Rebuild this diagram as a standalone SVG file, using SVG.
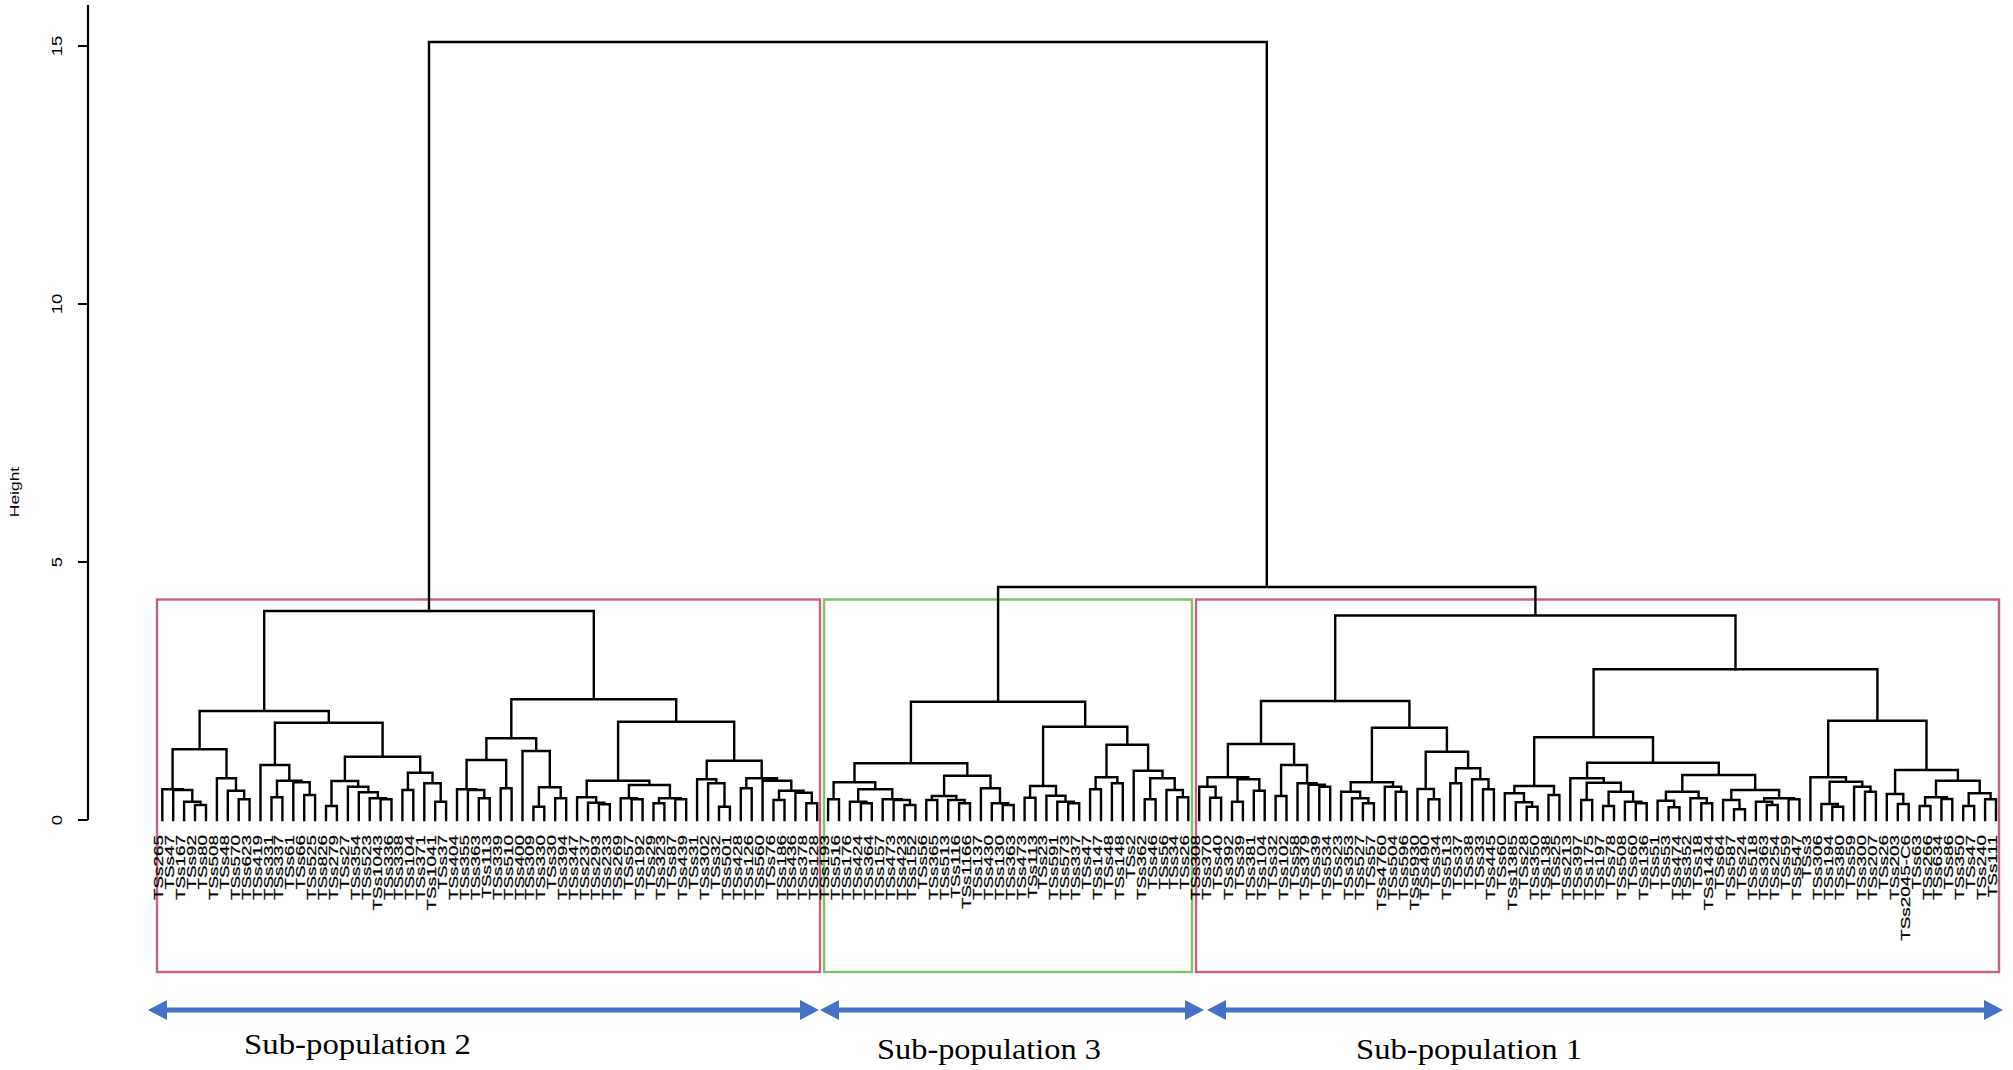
<svg xmlns="http://www.w3.org/2000/svg" width="2013" height="1070" viewBox="0 0 2013 1070">
<style>
.br{fill:none;stroke:#000;stroke-width:2.4;stroke-linecap:square}
.ax{fill:none;stroke:#000;stroke-width:2.2}
.lb{font-family:"Liberation Sans",Arial,sans-serif;font-size:13px;text-anchor:end;fill:#000;stroke:#000;stroke-width:0.25}
.tk{font-family:"Liberation Sans",Arial,sans-serif;font-size:14px;text-anchor:middle;fill:#000}
.pk{fill:none;stroke:#C8617A;stroke-width:2.4}
.gr{fill:none;stroke:#7CC46B;stroke-width:2.4}
.ar{fill:#4472C4}
.sp{font-family:"Liberation Serif","Times New Roman",serif;font-size:30px;fill:#000}
</style>
<rect width="2013" height="1070" fill="#fff"/>
<g id="axis">
<path class="ax" d="M88 5V820M78 820H88M78 562H88M78 304H88M78 46H88"/>
<text class="tk" transform="translate(62 820) rotate(-90) scale(1.33 1)">0</text>
<text class="tk" transform="translate(62 562) rotate(-90) scale(1.33 1)">5</text>
<text class="tk" transform="translate(62 304) rotate(-90) scale(1.33 1)">10</text>
<text class="tk" transform="translate(62 46) rotate(-90) scale(1.33 1)">15</text>
<text class="tk" style="font-size:12px" transform="translate(18.5 492) rotate(-90) scale(1.45 1)">Height</text>
</g>
<g id="boxes">
<rect id="box-sub2" class="pk" x="157" y="599.5" width="663" height="372.5"/>
<rect id="box-sub3" class="gr" x="824" y="599.5" width="368" height="372.5"/>
<rect id="box-sub1" class="pk" x="1196" y="599.5" width="803" height="372.5"/>
</g>
<g id="connectors">
<path class="br" d="M429 611V42H1266.8V587M998.1 701.7V587H1535.4V615.5M1335.2 701V615.5H1735.5V669.3"/>
<path id="sub2-branches" class="br" d="M195 820V805H206V820M184.1 820V801.7H200.5V805M173.2 820V790H192.3V801.7M162.3 820V789.3H182.8V790M238.7 820V799.3H249.6V820M227.8 820V790.7H244.2V799.3M216.9 820V778.3H236V790.7M172.6 789.3V749.3H226.5V778.3M271.5 820V797.3H282.4V820M304.2 820V795H315.1V820M293.3 820V782.3H309.7V795M277 797.3V780.7H301.5V782.3M260.5 820V765H289.3V780.7M326 820V806H336.9V820M380.6 820V799.3H391.5V820M369.7 820V798.3H386.1V799.3M358.8 820V792.3H377.9V798.3M347.9 820V786.7H368.4V792.3M331.5 806V781H358.2V786.7M402.4 820V790H413.3V820M435.2 820V801.7H446.1V820M424.3 820V783.3H440.7V801.7M407.9 790V772.7H432.5V783.3M344.9 781V756.7H420.2V772.7M274.9 765V722.7H382.6V756.7M199.6 749.3V711H328.8V722.7M478.8 820V798.3H489.7V820M467.9 820V790H484.3V798.3M457 820V789.3H476.1V790M500.7 820V788.3H511.6V820M466.6 789.3V760H506.2V788.3M533.4 820V806.7H544.3V820M555.2 820V798.3H566.2V820M538.9 806.7V787.3H560.7V798.3M522.5 820V751H549.8V787.3M486.4 760V738.3H536.2V751M598.9 820V804.3H609.8V820M588 820V802.7H604.4V804.3M577.1 820V797.3H596.2V802.7M631.6 820V799.3H642.6V820M620.7 820V798.3H637.1V799.3M653.5 820V803.3H664.4V820M675.3 820V799.3H686.2V820M659 803.3V798.3H680.8V799.3M628.9 798.3V785H669.9V798.3M586.7 797.3V780.7H649.4V785M719 820V806.7H729.9V820M708.1 820V783.3H724.5V806.7M697.1 820V779.3H716.3V783.3M740.8 820V788.3H751.7V820M773.5 820V800H784.5V820M806.3 820V803.3H817.2V820M795.4 820V792.7H811.8V803.3M779 800V790.7H803.6V792.7M762.6 820V780.7H791.3V790.7M746.3 788.3V778.3H777V780.7M706.7 779.3V760.7H761.7V778.3M618.1 780.7V721.7H734.2V760.7M511.3 738.3V699.3H676.2V721.7M264.2 711V611H593.8V699.3"/>
<path id="sub3-branches" class="br" d="M828.1 820V799.3H839V820M860.9 820V803.3H871.8V820M849.9 820V801.7H866.4V803.3M904.5 820V805H915.4V820M893.6 820V800H910V805M882.7 820V799.3H901.8V800M858.2 801.7V789.3H892.3V799.3M833.6 799.3V782.3H875.3V789.3M926.3 820V800H937.3V820M959.1 820V803.3H970V820M948.2 820V800H964.6V803.3M931.8 800V796H956.4V800M1002.7 820V805H1013.7V820M991.8 820V803.3H1008.2V805M980.9 820V788.3H1000V803.3M944.1 796V775.7H990.5V788.3M854.5 782.3V763.3H967.3V775.7M1024.6 820V797.7H1035.5V820M1068.2 820V803.3H1079.2V820M1057.3 820V801.7H1073.7V803.3M1046.4 820V795.7H1065.5V801.7M1030.1 797.7V786H1056V795.7M1090.1 820V789.3H1101V820M1111.9 820V783.3H1122.8V820M1095.6 789.3V777.3H1117.4V783.3M1144.7 820V799.3H1155.6V820M1177.4 820V797.3H1188.3V820M1166.5 820V790H1182.9V797.3M1150.2 799.3V778.3H1174.7V790M1133.7 820V770.7H1162.5V778.3M1106.5 777.3V744.7H1148.1V770.7M1043.1 786V726.7H1127.3V744.7M910.9 763.3V701.7H1085.2V726.7"/>
<path id="sub1-branches" class="br" d="M1210.1 820V797.7H1221.1V820M1199.2 820V786.7H1215.6V797.7M1232 820V801.7H1242.9V820M1253.8 820V790.7H1264.7V820M1237.5 801.7V779.3H1259.3V790.7M1207.4 786.7V777.3H1248.4V779.3M1275.6 820V796H1286.5V820M1319.3 820V786.7H1330.2V820M1308.4 820V784.7H1324.8V786.7M1297.5 820V783.3H1316.6V784.7M1281.1 796V765H1307.1V783.3M1227.9 777.3V744H1294.1V765M1362.9 820V803.3H1373.9V820M1352 820V798.3H1368.4V803.3M1341.1 820V791.7H1360.2V798.3M1395.7 820V791.7H1406.6V820M1384.8 820V786.7H1401.2V791.7M1350.7 791.7V782.3H1393V786.7M1428.4 820V799.3H1439.4V820M1417.5 820V789H1433.9V799.3M1450.3 820V783.3H1461.2V820M1483 820V789.3H1493.9V820M1472.1 820V779.3H1488.5V789.3M1455.8 783.3V768.3H1480.3V779.3M1425.7 789V751.7H1468.1V768.3M1371.9 782.3V727.7H1446.9V751.7M1261 744V701H1409.4V727.7M1526.7 820V806.7H1537.6V820M1515.8 820V802.3H1532.2V806.7M1504.8 820V793.3H1524V802.3M1548.5 820V795H1559.4V820M1514.4 793.3V786H1554V795M1581.2 820V800H1592.2V820M1603.1 820V806H1614V820M1635.8 820V803.3H1646.7V820M1624.9 820V801.7H1641.3V803.3M1608.6 806V791.7H1633.1V801.7M1586.7 800V782.7H1620.9V791.7M1570.3 820V778.3H1603.8V782.7M1668.6 820V807.3H1679.5V820M1657.6 820V800.7H1674.1V807.3M1701.3 820V803.3H1712.2V820M1690.4 820V798.3H1706.8V803.3M1665.9 800.7V791.7H1698.6V798.3M1734 820V809.3H1745V820M1723.1 820V800H1739.5V809.3M1766.8 820V805H1777.7V820M1755.9 820V801.7H1772.3V805M1788.6 820V799.3H1799.5V820M1764.1 801.7V798.3H1794.1V799.3M1731.3 800V790H1779.1V798.3M1682.3 791.7V775H1755.2V790M1587.1 778.3V762.7H1718.8V775M1534.2 786V737.3H1653V762.7M1832.3 820V806.7H1843.2V820M1821.4 820V804H1837.8V806.7M1865 820V791.7H1875.9V820M1854.1 820V786.7H1870.5V791.7M1829.6 804V781.7H1862.3V786.7M1810.4 820V777.3H1846V781.7M1897.8 820V804H1908.7V820M1886.8 820V794H1903.3V804M1919.6 820V806H1930.5V820M1941.4 820V799H1952.3V820M1925.1 806V797.3H1946.9V799M1963.2 820V806H1974.2V820M1985.1 820V799.3H1996V820M1968.7 806V793.3H1990.6V799.3M1936 797.3V780.7H1979.7V793.3M1895.1 794V770H1957.9V780.7M1828.2 777.3V720.7H1926.5V770M1593.6 737.3V669.3H1877.4V720.7"/>
</g>
<g id="leaves">
<g id="leaf0"><text class="lb" transform="translate(163.3 835) rotate(-90) scale(1.45 1)">TSs265</text></g>
<g id="leaf1"><text class="lb" transform="translate(174.2 835) rotate(-90) scale(1.45 1)">TSs47</text></g>
<g id="leaf2"><text class="lb" transform="translate(185.1 835) rotate(-90) scale(1.45 1)">TSs167</text></g>
<g id="leaf3"><text class="lb" transform="translate(196 835) rotate(-90) scale(1.45 1)">TSs92</text></g>
<g id="leaf4"><text class="lb" transform="translate(207 835) rotate(-90) scale(1.45 1)">TSs80</text></g>
<g id="leaf5"><text class="lb" transform="translate(217.9 835) rotate(-90) scale(1.45 1)">TSs508</text></g>
<g id="leaf6"><text class="lb" transform="translate(228.8 835) rotate(-90) scale(1.45 1)">TSs48</text></g>
<g id="leaf7"><text class="lb" transform="translate(239.7 835) rotate(-90) scale(1.45 1)">TSs570</text></g>
<g id="leaf8"><text class="lb" transform="translate(250.6 835) rotate(-90) scale(1.45 1)">TSs623</text></g>
<g id="leaf9"><text class="lb" transform="translate(261.5 835) rotate(-90) scale(1.45 1)">TSs419</text></g>
<g id="leaf10"><text class="lb" transform="translate(272.5 835) rotate(-90) scale(1.45 1)">TSs331</text></g>
<g id="leaf11"><text class="lb" transform="translate(283.4 835) rotate(-90) scale(1.45 1)">TSs337</text></g>
<g id="leaf12"><text class="lb" transform="translate(294.3 835) rotate(-90) scale(1.45 1)">TSs61</text></g>
<g id="leaf13"><text class="lb" transform="translate(305.2 835) rotate(-90) scale(1.45 1)">TSs66</text></g>
<g id="leaf14"><text class="lb" transform="translate(316.1 835) rotate(-90) scale(1.45 1)">TSs525</text></g>
<g id="leaf15"><text class="lb" transform="translate(327 835) rotate(-90) scale(1.45 1)">TSs826</text></g>
<g id="leaf16"><text class="lb" transform="translate(337.9 835) rotate(-90) scale(1.45 1)">TSs279</text></g>
<g id="leaf17"><text class="lb" transform="translate(348.9 835) rotate(-90) scale(1.45 1)">TSs27</text></g>
<g id="leaf18"><text class="lb" transform="translate(359.8 835) rotate(-90) scale(1.45 1)">TSs354</text></g>
<g id="leaf19"><text class="lb" transform="translate(370.7 835) rotate(-90) scale(1.45 1)">TSs523</text></g>
<g id="leaf20"><text class="lb" transform="translate(381.6 835) rotate(-90) scale(1.45 1)">TSs1043</text></g>
<g id="leaf21"><text class="lb" transform="translate(392.5 835) rotate(-90) scale(1.45 1)">TSs336</text></g>
<g id="leaf22"><text class="lb" transform="translate(403.4 835) rotate(-90) scale(1.45 1)">TSs338</text></g>
<g id="leaf23"><text class="lb" transform="translate(414.3 835) rotate(-90) scale(1.45 1)">TSs104</text></g>
<g id="leaf24"><text class="lb" transform="translate(425.3 835) rotate(-90) scale(1.45 1)">TSs371</text></g>
<g id="leaf25"><text class="lb" transform="translate(436.2 835) rotate(-90) scale(1.45 1)">TSs1041</text></g>
<g id="leaf26"><text class="lb" transform="translate(447.1 835) rotate(-90) scale(1.45 1)">TSs37</text></g>
<g id="leaf27"><text class="lb" transform="translate(458 835) rotate(-90) scale(1.45 1)">TSs404</text></g>
<g id="leaf28"><text class="lb" transform="translate(468.9 835) rotate(-90) scale(1.45 1)">TSs355</text></g>
<g id="leaf29"><text class="lb" transform="translate(479.8 835) rotate(-90) scale(1.45 1)">TSs363</text></g>
<g id="leaf30"><text class="lb" transform="translate(490.7 835) rotate(-90) scale(1.45 1)">TSs113</text></g>
<g id="leaf31"><text class="lb" transform="translate(501.7 835) rotate(-90) scale(1.45 1)">TSs339</text></g>
<g id="leaf32"><text class="lb" transform="translate(512.6 835) rotate(-90) scale(1.45 1)">TSs510</text></g>
<g id="leaf33"><text class="lb" transform="translate(523.5 835) rotate(-90) scale(1.45 1)">TSs400</text></g>
<g id="leaf34"><text class="lb" transform="translate(534.4 835) rotate(-90) scale(1.45 1)">TSs309</text></g>
<g id="leaf35"><text class="lb" transform="translate(545.3 835) rotate(-90) scale(1.45 1)">TSs330</text></g>
<g id="leaf36"><text class="lb" transform="translate(556.2 835) rotate(-90) scale(1.45 1)">TSs30</text></g>
<g id="leaf37"><text class="lb" transform="translate(567.2 835) rotate(-90) scale(1.45 1)">TSs394</text></g>
<g id="leaf38"><text class="lb" transform="translate(578.1 835) rotate(-90) scale(1.45 1)">TSs347</text></g>
<g id="leaf39"><text class="lb" transform="translate(589 835) rotate(-90) scale(1.45 1)">TSs237</text></g>
<g id="leaf40"><text class="lb" transform="translate(599.9 835) rotate(-90) scale(1.45 1)">TSs293</text></g>
<g id="leaf41"><text class="lb" transform="translate(610.8 835) rotate(-90) scale(1.45 1)">TSs233</text></g>
<g id="leaf42"><text class="lb" transform="translate(621.7 835) rotate(-90) scale(1.45 1)">TSs269</text></g>
<g id="leaf43"><text class="lb" transform="translate(632.6 835) rotate(-90) scale(1.45 1)">TSs57</text></g>
<g id="leaf44"><text class="lb" transform="translate(643.6 835) rotate(-90) scale(1.45 1)">TSs192</text></g>
<g id="leaf45"><text class="lb" transform="translate(654.5 835) rotate(-90) scale(1.45 1)">TSs29</text></g>
<g id="leaf46"><text class="lb" transform="translate(665.4 835) rotate(-90) scale(1.45 1)">TSs323</text></g>
<g id="leaf47"><text class="lb" transform="translate(676.3 835) rotate(-90) scale(1.45 1)">TSs87</text></g>
<g id="leaf48"><text class="lb" transform="translate(687.2 835) rotate(-90) scale(1.45 1)">TSs439</text></g>
<g id="leaf49"><text class="lb" transform="translate(698.1 835) rotate(-90) scale(1.45 1)">TSs31</text></g>
<g id="leaf50"><text class="lb" transform="translate(709.1 835) rotate(-90) scale(1.45 1)">TSs302</text></g>
<g id="leaf51"><text class="lb" transform="translate(720 835) rotate(-90) scale(1.45 1)">TSs32</text></g>
<g id="leaf52"><text class="lb" transform="translate(730.9 835) rotate(-90) scale(1.45 1)">TSs501</text></g>
<g id="leaf53"><text class="lb" transform="translate(741.8 835) rotate(-90) scale(1.45 1)">TSs428</text></g>
<g id="leaf54"><text class="lb" transform="translate(752.7 835) rotate(-90) scale(1.45 1)">TSs126</text></g>
<g id="leaf55"><text class="lb" transform="translate(763.6 835) rotate(-90) scale(1.45 1)">TSs560</text></g>
<g id="leaf56"><text class="lb" transform="translate(774.5 835) rotate(-90) scale(1.45 1)">TSs76</text></g>
<g id="leaf57"><text class="lb" transform="translate(785.5 835) rotate(-90) scale(1.45 1)">TSs186</text></g>
<g id="leaf58"><text class="lb" transform="translate(796.4 835) rotate(-90) scale(1.45 1)">TSs436</text></g>
<g id="leaf59"><text class="lb" transform="translate(807.3 835) rotate(-90) scale(1.45 1)">TSs378</text></g>
<g id="leaf60"><text class="lb" transform="translate(818.2 835) rotate(-90) scale(1.45 1)">TSs128</text></g>
<g id="leaf61"><text class="lb" transform="translate(829.1 835) rotate(-90) scale(1.45 1)">TSs193</text></g>
<g id="leaf62"><text class="lb" transform="translate(840 835) rotate(-90) scale(1.45 1)">TSs516</text></g>
<g id="leaf63"><text class="lb" transform="translate(850.9 835) rotate(-90) scale(1.45 1)">TSs176</text></g>
<g id="leaf64"><text class="lb" transform="translate(861.9 835) rotate(-90) scale(1.45 1)">TSs424</text></g>
<g id="leaf65"><text class="lb" transform="translate(872.8 835) rotate(-90) scale(1.45 1)">TSs364</text></g>
<g id="leaf66"><text class="lb" transform="translate(883.7 835) rotate(-90) scale(1.45 1)">TSs157</text></g>
<g id="leaf67"><text class="lb" transform="translate(894.6 835) rotate(-90) scale(1.45 1)">TSs473</text></g>
<g id="leaf68"><text class="lb" transform="translate(905.5 835) rotate(-90) scale(1.45 1)">TSs423</text></g>
<g id="leaf69"><text class="lb" transform="translate(916.4 835) rotate(-90) scale(1.45 1)">TSs152</text></g>
<g id="leaf70"><text class="lb" transform="translate(927.3 835) rotate(-90) scale(1.45 1)">TSs56</text></g>
<g id="leaf71"><text class="lb" transform="translate(938.3 835) rotate(-90) scale(1.45 1)">TSs365</text></g>
<g id="leaf72"><text class="lb" transform="translate(949.2 835) rotate(-90) scale(1.45 1)">TSs513</text></g>
<g id="leaf73"><text class="lb" transform="translate(960.1 835) rotate(-90) scale(1.45 1)">TSs116</text></g>
<g id="leaf74"><text class="lb" transform="translate(971 835) rotate(-90) scale(1.45 1)">TSs1166</text></g>
<g id="leaf75"><text class="lb" transform="translate(981.9 835) rotate(-90) scale(1.45 1)">TSs137</text></g>
<g id="leaf76"><text class="lb" transform="translate(992.8 835) rotate(-90) scale(1.45 1)">TSs430</text></g>
<g id="leaf77"><text class="lb" transform="translate(1003.7 835) rotate(-90) scale(1.45 1)">TSs130</text></g>
<g id="leaf78"><text class="lb" transform="translate(1014.7 835) rotate(-90) scale(1.45 1)">TSs363</text></g>
<g id="leaf79"><text class="lb" transform="translate(1025.6 835) rotate(-90) scale(1.45 1)">TSs473</text></g>
<g id="leaf80"><text class="lb" transform="translate(1036.5 835) rotate(-90) scale(1.45 1)">TSs113</text></g>
<g id="leaf81"><text class="lb" transform="translate(1047.4 835) rotate(-90) scale(1.45 1)">TSs23</text></g>
<g id="leaf82"><text class="lb" transform="translate(1058.3 835) rotate(-90) scale(1.45 1)">TSs591</text></g>
<g id="leaf83"><text class="lb" transform="translate(1069.2 835) rotate(-90) scale(1.45 1)">TSs573</text></g>
<g id="leaf84"><text class="lb" transform="translate(1080.2 835) rotate(-90) scale(1.45 1)">TSs337</text></g>
<g id="leaf85"><text class="lb" transform="translate(1091.1 835) rotate(-90) scale(1.45 1)">TSs47</text></g>
<g id="leaf86"><text class="lb" transform="translate(1102 835) rotate(-90) scale(1.45 1)">TSs147</text></g>
<g id="leaf87"><text class="lb" transform="translate(1112.9 835) rotate(-90) scale(1.45 1)">TSs48</text></g>
<g id="leaf88"><text class="lb" transform="translate(1123.8 835) rotate(-90) scale(1.45 1)">TSs148</text></g>
<g id="leaf89"><text class="lb" transform="translate(1134.7 835) rotate(-90) scale(1.45 1)">TSs2</text></g>
<g id="leaf90"><text class="lb" transform="translate(1145.7 835) rotate(-90) scale(1.45 1)">TSs362</text></g>
<g id="leaf91"><text class="lb" transform="translate(1156.6 835) rotate(-90) scale(1.45 1)">TSs46</text></g>
<g id="leaf92"><text class="lb" transform="translate(1167.5 835) rotate(-90) scale(1.45 1)">TSs56</text></g>
<g id="leaf93"><text class="lb" transform="translate(1178.4 835) rotate(-90) scale(1.45 1)">TSs34</text></g>
<g id="leaf94"><text class="lb" transform="translate(1189.3 835) rotate(-90) scale(1.45 1)">TSs26</text></g>
<g id="leaf95"><text class="lb" transform="translate(1200.2 835) rotate(-90) scale(1.45 1)">TSs308</text></g>
<g id="leaf96"><text class="lb" transform="translate(1211.1 835) rotate(-90) scale(1.45 1)">TSs370</text></g>
<g id="leaf97"><text class="lb" transform="translate(1222.1 835) rotate(-90) scale(1.45 1)">TSs40</text></g>
<g id="leaf98"><text class="lb" transform="translate(1233 835) rotate(-90) scale(1.45 1)">TSs392</text></g>
<g id="leaf99"><text class="lb" transform="translate(1243.9 835) rotate(-90) scale(1.45 1)">TSs39</text></g>
<g id="leaf100"><text class="lb" transform="translate(1254.8 835) rotate(-90) scale(1.45 1)">TSs381</text></g>
<g id="leaf101"><text class="lb" transform="translate(1265.7 835) rotate(-90) scale(1.45 1)">TSs104</text></g>
<g id="leaf102"><text class="lb" transform="translate(1276.6 835) rotate(-90) scale(1.45 1)">TSs32</text></g>
<g id="leaf103"><text class="lb" transform="translate(1287.5 835) rotate(-90) scale(1.45 1)">TSs102</text></g>
<g id="leaf104"><text class="lb" transform="translate(1298.5 835) rotate(-90) scale(1.45 1)">TSs58</text></g>
<g id="leaf105"><text class="lb" transform="translate(1309.4 835) rotate(-90) scale(1.45 1)">TSs379</text></g>
<g id="leaf106"><text class="lb" transform="translate(1320.3 835) rotate(-90) scale(1.45 1)">TSs39</text></g>
<g id="leaf107"><text class="lb" transform="translate(1331.2 835) rotate(-90) scale(1.45 1)">TSs534</text></g>
<g id="leaf108"><text class="lb" transform="translate(1342.1 835) rotate(-90) scale(1.45 1)">TSs23</text></g>
<g id="leaf109"><text class="lb" transform="translate(1353 835) rotate(-90) scale(1.45 1)">TSs353</text></g>
<g id="leaf110"><text class="lb" transform="translate(1363.9 835) rotate(-90) scale(1.45 1)">TSs527</text></g>
<g id="leaf111"><text class="lb" transform="translate(1374.9 835) rotate(-90) scale(1.45 1)">TSs57</text></g>
<g id="leaf112"><text class="lb" transform="translate(1385.8 835) rotate(-90) scale(1.45 1)">TSs4760</text></g>
<g id="leaf113"><text class="lb" transform="translate(1396.7 835) rotate(-90) scale(1.45 1)">TSs504</text></g>
<g id="leaf114"><text class="lb" transform="translate(1407.6 835) rotate(-90) scale(1.45 1)">TSs596</text></g>
<g id="leaf115"><text class="lb" transform="translate(1418.5 835) rotate(-90) scale(1.45 1)">TSs5930</text></g>
<g id="leaf116"><text class="lb" transform="translate(1429.4 835) rotate(-90) scale(1.45 1)">TSs490</text></g>
<g id="leaf117"><text class="lb" transform="translate(1440.4 835) rotate(-90) scale(1.45 1)">TSs34</text></g>
<g id="leaf118"><text class="lb" transform="translate(1451.3 835) rotate(-90) scale(1.45 1)">TSs513</text></g>
<g id="leaf119"><text class="lb" transform="translate(1462.2 835) rotate(-90) scale(1.45 1)">TSs37</text></g>
<g id="leaf120"><text class="lb" transform="translate(1473.1 835) rotate(-90) scale(1.45 1)">TSs38</text></g>
<g id="leaf121"><text class="lb" transform="translate(1484 835) rotate(-90) scale(1.45 1)">TSs33</text></g>
<g id="leaf122"><text class="lb" transform="translate(1494.9 835) rotate(-90) scale(1.45 1)">TSs445</text></g>
<g id="leaf123"><text class="lb" transform="translate(1505.8 835) rotate(-90) scale(1.45 1)">TSs60</text></g>
<g id="leaf124"><text class="lb" transform="translate(1516.8 835) rotate(-90) scale(1.45 1)">TSs1385</text></g>
<g id="leaf125"><text class="lb" transform="translate(1527.7 835) rotate(-90) scale(1.45 1)">TSs28</text></g>
<g id="leaf126"><text class="lb" transform="translate(1538.6 835) rotate(-90) scale(1.45 1)">TSs350</text></g>
<g id="leaf127"><text class="lb" transform="translate(1549.5 835) rotate(-90) scale(1.45 1)">TSs138</text></g>
<g id="leaf128"><text class="lb" transform="translate(1560.4 835) rotate(-90) scale(1.45 1)">TSs25</text></g>
<g id="leaf129"><text class="lb" transform="translate(1571.3 835) rotate(-90) scale(1.45 1)">TSs213</text></g>
<g id="leaf130"><text class="lb" transform="translate(1582.2 835) rotate(-90) scale(1.45 1)">TSs397</text></g>
<g id="leaf131"><text class="lb" transform="translate(1593.2 835) rotate(-90) scale(1.45 1)">TSs175</text></g>
<g id="leaf132"><text class="lb" transform="translate(1604.1 835) rotate(-90) scale(1.45 1)">TSs197</text></g>
<g id="leaf133"><text class="lb" transform="translate(1615 835) rotate(-90) scale(1.45 1)">TSs78</text></g>
<g id="leaf134"><text class="lb" transform="translate(1625.9 835) rotate(-90) scale(1.45 1)">TSs508</text></g>
<g id="leaf135"><text class="lb" transform="translate(1636.8 835) rotate(-90) scale(1.45 1)">TSs60</text></g>
<g id="leaf136"><text class="lb" transform="translate(1647.7 835) rotate(-90) scale(1.45 1)">TSs136</text></g>
<g id="leaf137"><text class="lb" transform="translate(1658.6 835) rotate(-90) scale(1.45 1)">TSs51</text></g>
<g id="leaf138"><text class="lb" transform="translate(1669.6 835) rotate(-90) scale(1.45 1)">TSs53</text></g>
<g id="leaf139"><text class="lb" transform="translate(1680.5 835) rotate(-90) scale(1.45 1)">TSs474</text></g>
<g id="leaf140"><text class="lb" transform="translate(1691.4 835) rotate(-90) scale(1.45 1)">TSs352</text></g>
<g id="leaf141"><text class="lb" transform="translate(1702.3 835) rotate(-90) scale(1.45 1)">TSs18</text></g>
<g id="leaf142"><text class="lb" transform="translate(1713.2 835) rotate(-90) scale(1.45 1)">TSs1434</text></g>
<g id="leaf143"><text class="lb" transform="translate(1724.1 835) rotate(-90) scale(1.45 1)">TSs64</text></g>
<g id="leaf144"><text class="lb" transform="translate(1735 835) rotate(-90) scale(1.45 1)">TSs587</text></g>
<g id="leaf145"><text class="lb" transform="translate(1746 835) rotate(-90) scale(1.45 1)">TSs24</text></g>
<g id="leaf146"><text class="lb" transform="translate(1756.9 835) rotate(-90) scale(1.45 1)">TSs518</text></g>
<g id="leaf147"><text class="lb" transform="translate(1767.8 835) rotate(-90) scale(1.45 1)">TSs363</text></g>
<g id="leaf148"><text class="lb" transform="translate(1778.7 835) rotate(-90) scale(1.45 1)">TSs254</text></g>
<g id="leaf149"><text class="lb" transform="translate(1789.6 835) rotate(-90) scale(1.45 1)">TSs59</text></g>
<g id="leaf150"><text class="lb" transform="translate(1800.5 835) rotate(-90) scale(1.45 1)">TSs547</text></g>
<g id="leaf151"><text class="lb" transform="translate(1811.4 835) rotate(-90) scale(1.45 1)">TSs3</text></g>
<g id="leaf152"><text class="lb" transform="translate(1822.4 835) rotate(-90) scale(1.45 1)">TSs306</text></g>
<g id="leaf153"><text class="lb" transform="translate(1833.3 835) rotate(-90) scale(1.45 1)">TSs194</text></g>
<g id="leaf154"><text class="lb" transform="translate(1844.2 835) rotate(-90) scale(1.45 1)">TSs380</text></g>
<g id="leaf155"><text class="lb" transform="translate(1855.1 835) rotate(-90) scale(1.45 1)">TSs59</text></g>
<g id="leaf156"><text class="lb" transform="translate(1866 835) rotate(-90) scale(1.45 1)">TSs300</text></g>
<g id="leaf157"><text class="lb" transform="translate(1876.9 835) rotate(-90) scale(1.45 1)">TSs207</text></g>
<g id="leaf158"><text class="lb" transform="translate(1887.8 835) rotate(-90) scale(1.45 1)">TSs26</text></g>
<g id="leaf159"><text class="lb" transform="translate(1898.8 835) rotate(-90) scale(1.45 1)">TSs203</text></g>
<g id="leaf160"><text class="lb" transform="translate(1909.7 835) rotate(-90) scale(1.45 1)">TSs2045-C6</text></g>
<g id="leaf161"><text class="lb" transform="translate(1920.6 835) rotate(-90) scale(1.45 1)">TSs63</text></g>
<g id="leaf162"><text class="lb" transform="translate(1931.5 835) rotate(-90) scale(1.45 1)">TSs266</text></g>
<g id="leaf163"><text class="lb" transform="translate(1942.4 835) rotate(-90) scale(1.45 1)">TSs634</text></g>
<g id="leaf164"><text class="lb" transform="translate(1953.3 835) rotate(-90) scale(1.45 1)">TSs86</text></g>
<g id="leaf165"><text class="lb" transform="translate(1964.2 835) rotate(-90) scale(1.45 1)">TSs350</text></g>
<g id="leaf166"><text class="lb" transform="translate(1975.2 835) rotate(-90) scale(1.45 1)">TSs47</text></g>
<g id="leaf167"><text class="lb" transform="translate(1986.1 835) rotate(-90) scale(1.45 1)">TSs240</text></g>
<g id="leaf168"><text class="lb" transform="translate(1997 835) rotate(-90) scale(1.45 1)">TSs111</text></g>
</g>
<g id="arrows">
<polygon class="ar" points="148,1010 167,1000 167,1007.5 800,1007.5 800,1000 819,1010 800,1020 800,1012.5 167,1012.5 167,1020"/>
<polygon class="ar" points="820,1010 839,1000 839,1007.5 1185,1007.5 1185,1000 1204,1010 1185,1020 1185,1012.5 839,1012.5 839,1020"/>
<polygon class="ar" points="1207,1010 1226,1000 1226,1007.5 1984,1007.5 1984,1000 2003,1010 1984,1020 1984,1012.5 1226,1012.5 1226,1020"/>
</g>
<g id="captions">
<text class="sp" x="244" y="1054" textLength="227" lengthAdjust="spacingAndGlyphs">Sub-population 2</text>
<text class="sp" x="877" y="1059" textLength="224" lengthAdjust="spacingAndGlyphs">Sub-population 3</text>
<text class="sp" x="1356" y="1059" textLength="226" lengthAdjust="spacingAndGlyphs">Sub-population 1</text>
</g>
</svg>
